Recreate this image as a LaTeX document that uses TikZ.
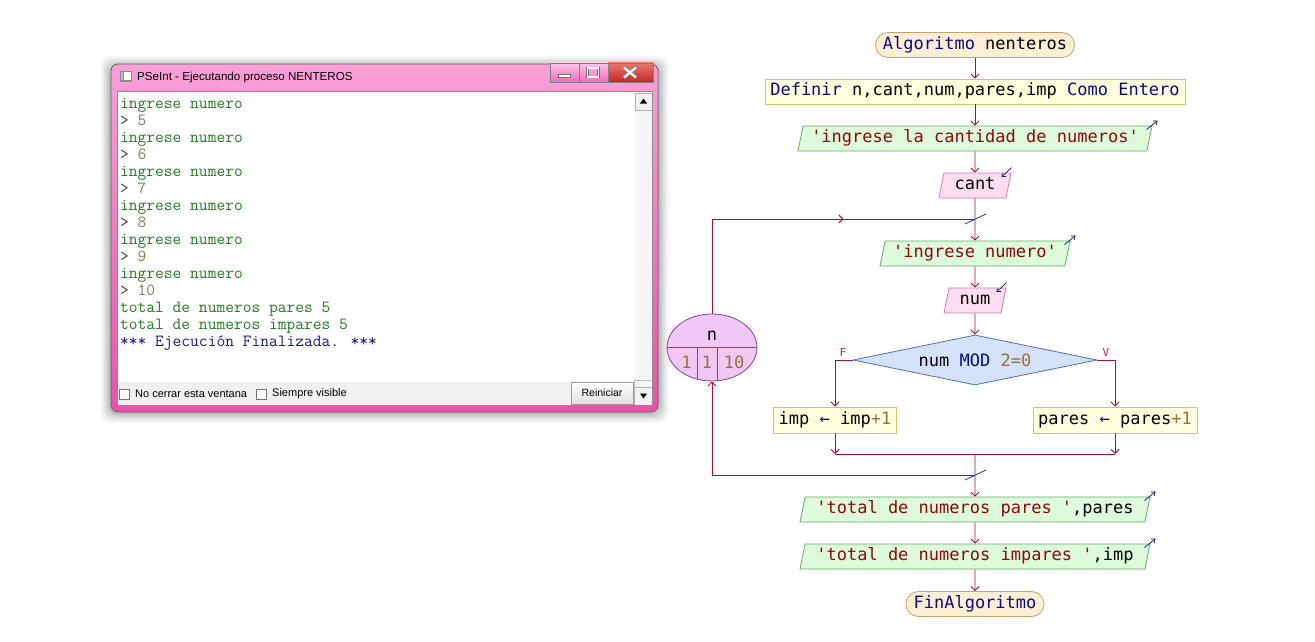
\documentclass[tikz,border=0pt]{standalone}
\usepackage{fontspec}
\setmainfont{Liberation Sans}
\newfontfamily\fcm{DejaVu Sans Mono}
\usetikzlibrary{shapes.geometric,arrows.meta,calc}
\definecolor{conn}{RGB}{160,20,50}
\definecolor{slashc}{RGB}{70,40,150}
\definecolor{kwc}{RGB}{10,10,130}
\definecolor{strc}{RGB}{140,10,10}
\definecolor{numc}{RGB}{150,115,60}
\definecolor{labc}{RGB}{200,40,40}
\definecolor{termF}{RGB}{255,238,214}
\definecolor{termD}{RGB}{205,160,100}
\definecolor{procF}{RGB}{255,255,221}
\definecolor{procD}{RGB}{210,195,100}
\definecolor{outF}{RGB}{221,250,221}
\definecolor{outD}{RGB}{100,175,100}
\definecolor{inF}{RGB}{255,221,240}
\definecolor{inD}{RGB}{210,120,185}
\definecolor{diaF}{RGB}{212,226,250}
\definecolor{diaD}{RGB}{80,110,190}
\definecolor{ellF}{RGB}{240,200,245}
\definecolor{ellD}{RGB}{140,60,160}
\definecolor{congreen}{RGB}{35,125,35}
\definecolor{connum}{RGB}{140,120,70}
\definecolor{connavy}{RGB}{25,25,140}
\definecolor{pinkL}{RGB}{250,160,215}
\definecolor{pinkM}{RGB}{243,105,190}
\definecolor{pinkD}{RGB}{235,80,172}
\definecolor{uigrey}{RGB}{240,240,240}
\definecolor{closeL}{RGB}{230,120,110}
\definecolor{closeD}{RGB}{195,40,40}
\newcommand\kw[1]{\textcolor{kwc}{#1}}
\newcommand\fstr[1]{\textcolor{strc}{#1}}
\newcommand\fnum[1]{\textcolor{numc}{#1}}
\begin{document}
\begin{tikzpicture}[x=1pt,y=-1pt,
  flowfont/.style={font=\fcm\fontsize{17pt}{20pt}\selectfont},
  box/.style={flowfont, inner sep=0pt, text height=12pt, text depth=3.5pt, minimum height=25pt, line width=0.8pt},
  term/.style={box, rounded corners=12.5pt, draw=termD, fill=termF},
  proc/.style={box, draw=procD, fill=procF},
  para/.style={box, trapezium, trapezium left angle=72, trapezium right angle=108, trapezium stretches body},
  outp/.style={para, draw=outD, fill=outF},
  inp/.style={para, draw=inD, fill=inF},
  line/.style={draw=conn, line width=0.9pt},
  flow/.style={line, -{Straight Barb[length=4pt,width=8pt]}},
  slash/.style={draw=slashc, line width=0.8pt},
  icon/.style={draw=kwc, line width=0.7pt, -{Straight Barb[length=3pt,width=5pt]}},
  lab/.style={font=\fcm\fontsize{11pt}{12pt}\selectfont, text=labc, inner sep=0pt},
  con/.style={font=\ttfamily\fontsize{17pt}{17pt}\selectfont, anchor=base west, inner sep=0pt},
  uif/.style={font=\fontsize{11pt}{13pt}\selectfont, inner sep=0pt}
]
\useasboundingbox (0,0) rectangle (1315,642);
\fill[white] (0,0) rectangle (1315,642);

% ---------------- console window ----------------
\foreach \s/\o in {11/0.03,9/0.04,7/0.05,5/0.06,3/0.08,1/0.1}{
  \fill[black,opacity=\o,rounded corners=10pt] (111-\s,64-\s+3) rectangle (658+\s,412+\s);}
\shade[rounded corners=7pt, top color=pinkL, middle color=pinkM, bottom color=pinkD] (111,64) rectangle (658,412);
\draw[rounded corners=7pt, draw=black!60, line width=0.8pt] (111,64) rectangle (658,412);
% title icon
\fill[black!45] (120,71) rectangle (132,82);
\fill[white] (124,72.5) rectangle (131,80.5);
\fill[black!25] (121,72.5) rectangle (123,80.5);
\node[uif, font=\fontsize{11.6pt}{13pt}\selectfont, anchor=west] (title) at (137,77.5) {PSeInt - Ejecutando proceso NENTEROS};
% title buttons
\shadedraw[draw=black!50, top color=pinkL!60!white, bottom color=pinkM] (550,63) rectangle (608,82);
\draw[black!50] (579,63) -- (579,82);
\shadedraw[draw=black!50, top color=closeL, bottom color=closeD] (608,63) rectangle (653,82);
\filldraw[fill=white, draw=black!55, line width=0.5pt] (558,74.5) rectangle (570,77.5);
\draw[black!55, line width=2.4pt] (587.5,68) rectangle (598.5,77);
\draw[white, line width=1.4pt] (587.5,68) rectangle (598.5,77);
\draw[black!50, line width=3.4pt] (624,67.5) -- (636,77.5) (624,77.5) -- (636,67.5);
\draw[white, line width=2.2pt] (624,67.5) -- (636,77.5) (624,77.5) -- (636,67.5);
% client
\fill[white] (118,92) rectangle (652,405);
\fill[uigrey] (118,382) rectangle (634,405);
\fill[black!4] (635,93) rectangle (652,380);
\draw[black!30, fill=black!5] (635,93) rectangle (652,110);
\fill[black] (643.5,98.5) -- (647,103.5) -- (640,103.5) -- cycle;
\draw[black!25, fill=black!3] (634,380) rectangle (652,387);
\draw[black!30, fill=black!5] (634,387) rectangle (652,405);
\fill[black] (640,393.5) -- (647,393.5) -- (643.5,398.5) -- cycle;
\draw[black!45] (117.5,91.5) rectangle (652.5,405.5);
% bottom bar
\draw[black!55, fill=white] (119,389) rectangle (129,399);
\node[uif, anchor=west] (chk1) at (135,394) {No cerrar esta ventana};
\draw[black!55, fill=white] (256,389) rectangle (266,399);
\node[uif, anchor=west] (chk2) at (272,394) {Siempre visible};
\shadedraw[draw=black!40, top color=white, bottom color=black!12] (571,382.5) rectangle (633,404.5);
\node[uif, font=\fontsize{10.5pt}{12pt}\selectfont] (rein) at (602,393) {Reiniciar};
% console text
\node[con, text=congreen] (c0) at (120,108) {ingrese numero};
\node[con] (c1) at (120,125) {\textcolor{black!75}{>} \textcolor{connum}{5}};
\node[con, text=congreen] (c2) at (120,142) {ingrese numero};
\node[con] (c3) at (120,159) {\textcolor{black!75}{>} \textcolor{connum}{6}};
\node[con, text=congreen] (c4) at (120,176) {ingrese numero};
\node[con] (c5) at (120,193) {\textcolor{black!75}{>} \textcolor{connum}{7}};
\node[con, text=congreen] (c6) at (120,210) {ingrese numero};
\node[con] (c7) at (120,227) {\textcolor{black!75}{>} \textcolor{connum}{8}};
\node[con, text=congreen] (c8) at (120,244) {ingrese numero};
\node[con] (c9) at (120,261) {\textcolor{black!75}{>} \textcolor{connum}{9}};
\node[con, text=congreen] (c10) at (120,278) {ingrese numero};
\node[con] (c11) at (120,295) {\textcolor{black!75}{>} \textcolor{connum}{10}};
\node[con, text=congreen] (c12) at (120,312) {total de numeros pares 5};
\node[con, text=congreen] (c13) at (120,329) {total de numeros impares 5};
\node[con, text=connavy] (c14) at (120,346) {*** Ejecución Finalizada. ***};

% ---------------- flowchart ----------------
\node[term, minimum width=199pt] (start) at (975,45) {\kw{Algoritmo} nenteros};
\node[proc, minimum width=420pt] (def) at (975,91.5) {\kw{Definir} n,cant,num,pares,imp \kw{Como Entero}};
\node[outp, minimum width=354pt] (o1) at (975,138.5) {\fstr{'ingrese la cantidad de numeros'}};
\node[inp, minimum width=72pt] (i1) at (975,185.5) {cant};
\coordinate (j1) at (975,219);
\node[outp, minimum width=190pt] (o2) at (975,253.5) {\fstr{'ingrese numero'}};
\node[inp, minimum width=62pt] (in2) at (975,300.5) {num};
\node[diamond, flowfont, draw=diaD, fill=diaF, line width=0.8pt, inner sep=0pt, aspect=4.88, minimum width=244pt, minimum height=50pt] (dia) at (975,360) {num \kw{MOD} \fnum{2=0}};
\node[lab] (lf) at (843,352) {F};
\node[lab] (lv) at (1106,352) {V};
\node[proc, minimum width=123pt, minimum height=26pt] (imp) at (835,420) {imp \kw{←} imp\fnum{+1}};
\node[proc, minimum width=164pt, minimum height=26pt] (par) at (1115,420) {pares \kw{←} pares\fnum{+1}};
\coordinate (j2) at (975,454);
\coordinate (j3) at (975,475);
\node[outp, minimum width=350pt] (o3) at (975,509.5) {\fstr{'total de numeros pares '},pares};
\node[outp, minimum width=350pt] (o4) at (975,556.5) {\fstr{'total de numeros impares '},imp};
\node[term, minimum width=138pt] (fin) at (975,604) {\kw{FinAlgoritmo}};
% loop ellipse
\node[ellipse, draw=ellD, fill=ellF, line width=0.8pt, minimum width=90pt, minimum height=67pt, inner sep=0pt] (ell) at (712,347.5) {};
\begin{scope}
  \clip (712,347.5) ellipse [x radius=45, y radius=33.5];
  \draw[ellD, line width=0.8pt] (660,347.5) -- (765,347.5) (697,347.5) -- (697,390) (717,347.5) -- (717,390);
\end{scope}
\node[flowfont, inner sep=0pt] (ev) at (712,336) {n};
\node[flowfont, inner sep=0pt, text=numc] (e1) at (686.5,362) {1};
\node[flowfont, inner sep=0pt, text=numc] (e2) at (707,362) {1};
\node[flowfont, inner sep=0pt, text=numc] (e3) at (734,362) {10};

% connectors
\draw[flow] (start) -- (def);
\draw[flow] (def) -- (o1);
\draw[flow] (o1) -- (i1);
\draw[line] (i1.south) -- (j1);
\draw[flow] (j1) -- (o2.north);
\draw[flow] (o2) -- (in2);
\draw[flow] (in2) -- (dia);
\draw[flow] (dia.west) -| (imp.north);
\draw[flow] (dia.east) -| (par.north);
\draw[flow] (imp.south) -- (imp.south |- j2);
\draw[flow] (par.south) -- (par.south |- j2);
\draw[line] (imp.south |- j2) -- (par.south |- j2);
\draw[flow] (j2) -- (o3.north);
\draw[flow] (j3) -| (ell.south);
\draw[line] (ell.north) |- (j1);
\draw[flow] (ell.north |- j1) -- ($(ell.north |- j1)!0.5!(j1)$);
\draw[flow] (o3) -- (o4);
\draw[flow] (o4) -- (fin);
\draw[slash] ($(j1)+(-10,5)$) -- ($(j1)+(11,-5)$);
\draw[slash] ($(j3)+(-10,5)$) -- ($(j3)+(11,-5)$);
% io icons
\foreach \n in {o1,o2,o3,o4}{
  \draw[icon] ([shift={(-6,4)}]\n.top right corner) -- ([shift={(5,-5)}]\n.top right corner);}
\foreach \n in {i1,in2}{
  \draw[icon] ([shift={(0,-5)}]\n.top right corner) -- ([shift={(-10,4.5)}]\n.top right corner);}
\end{tikzpicture}
\end{document}
